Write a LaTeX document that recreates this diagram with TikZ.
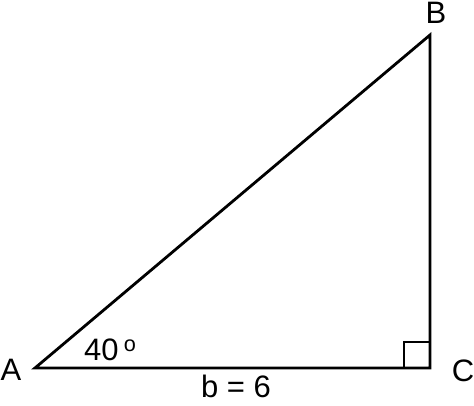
\documentclass[tikz,border=0pt]{standalone}
\usepackage{fontspec}
\setmainfont{Liberation Sans}
\usepackage{tikz}
\tikzstyle{side} = [draw, line width=2.8pt, line join=miter]
\tikzstyle{rightmark} = [draw, line width=1.3pt]
\tikzstyle{vlabel} = [inner sep=0pt, font=\fontsize{31}{37}\selectfont]

\begin{document}
\begin{tikzpicture}[x=1pt, y=1pt]
		\useasboundingbox (0,0) rectangle (474,406);
		\coordinate (A) at (35,38);
		\coordinate (C) at (430,38);
		\coordinate (B) at (430,371);

		\node [vlabel] (labA) at (11,36) {A};
		\node [vlabel] (labB) at (436,393) {B};
		\node [vlabel] (labC) at (463,35) {C};
		\node [vlabel, anchor=base west] (angle) at (84,45) {40\,\textsuperscript{o}};
		\node [vlabel, anchor=base] (side) at (236,8) {b = 6};

		\draw [side] (A) -- (C) -- (B) -- cycle;
		\draw [rightmark] ([xshift=-26pt]C) -- ++(0,26) -- ++(26,0);
	\end{tikzpicture}
\end{document}
